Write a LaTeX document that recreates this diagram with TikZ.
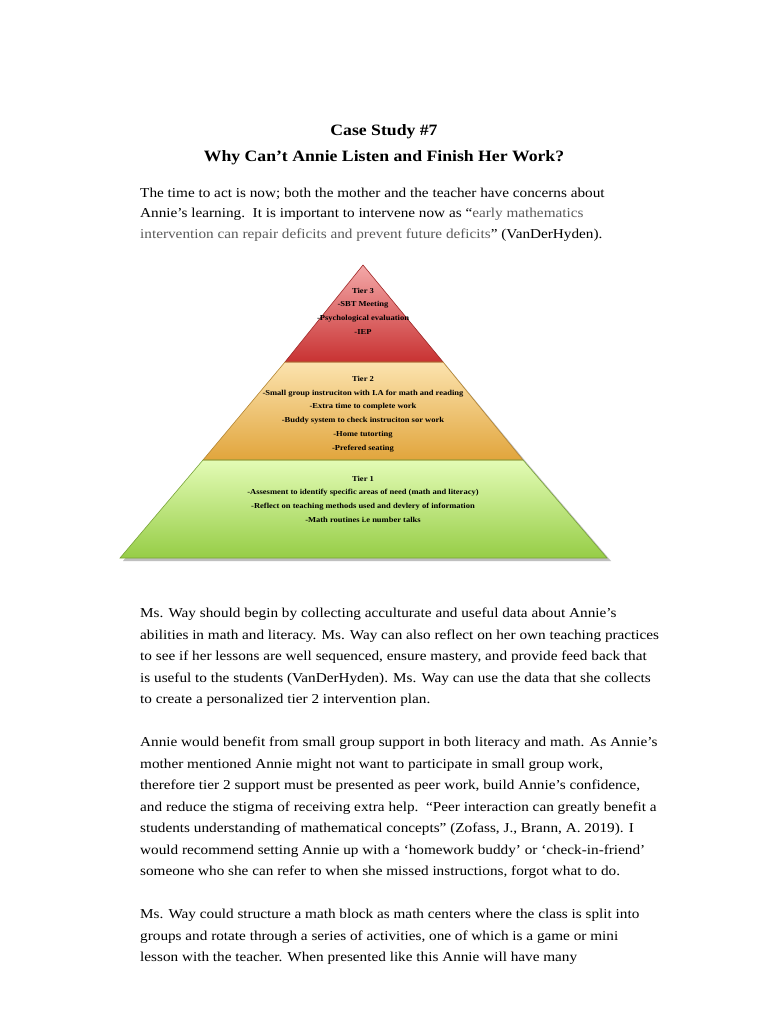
\documentclass[tikz,border=0pt]{standalone}
\usepackage{fontspec}
\setmainfont{Liberation Serif}[FakeStretch=1.12]
\begin{document}
\begin{tikzpicture}[x=1pt,y=-1pt,
 body/.style={anchor=base west,inner sep=0,font=\fontsize{13.6}{15}\selectfont},
 tit/.style={anchor=base,inner sep=0,font=\fontsize{15.8}{18}\selectfont\bfseries},
 tier/.style={align=center,inner sep=0,font=\fontsize{7.6}{13.7}\selectfont\bfseries}]
\useasboundingbox (0,0) rectangle (768,1024);
\fill[white] (0,0) rectangle (768,1024);
\definecolor{qgrey}{RGB}{90,90,90}
\node[tit] (t1) at (384,136) {Case Study \#7};
\node[tit] (t2) at (384,162) {Why Can’t Annie Listen and Finish Her Work?};
\node[body] (p1a) at (140,198) {The time to act is now; both the mother and the teacher have concerns about};
\node[body] (p1b) at (140,218) {Annie’s learning.\ \ It is important to intervene now as “{\color{qgrey}early mathematics}};
\node[body] (p1c) at (140,238) {{\color{qgrey}intervention can repair deficits and prevent future deficits}” (VanDerHyden).};
% pyramid
\definecolor{r1}{RGB}{236,110,110}\definecolor{r2}{RGB}{200,50,50}
\definecolor{o1}{RGB}{250,215,140}\definecolor{o2}{RGB}{225,165,60}
\definecolor{g1}{RGB}{215,250,150}\definecolor{g2}{RGB}{150,205,70}
\fill[black!25] (365,268) -- (446,365) -- (527,463) -- (611,561) -- (123,561) -- cycle;
\shade[top color=r1!60,bottom color=r2] (363,265) -- (443,362) -- (285,362) -- cycle;
\shade[top color=o1!70,bottom color=o2] (285,362) -- (443,362) -- (523,460) -- (203,460) -- cycle;
\shade[top color=g1!70,bottom color=g2] (203,460) -- (523,460) -- (607,558) -- (120,558) -- cycle;
\draw[r2!80!black,line width=0.6] (363,265) -- (443,362) -- (285,362) -- cycle;
\draw[o2!80!black,line width=0.6] (285,362) -- (443,362) -- (523,460) -- (203,460) -- cycle;
\draw[g2!80!black,line width=0.6] (203,460) -- (523,460) -- (607,558) -- (120,558) -- cycle;
\node[tier] (n3) at (363,311) {Tier 3\\-SBT Meeting\\-Psychological evaluation\\-IEP};
\node[tier] (n2) at (363,414) {Tier 2\\-Small group instruciton with I.A for math and reading\\-Extra time to complete work\\-Buddy system to check instruciton sor work\\-Home tutorting\\-Prefered seating};
\node[tier] (n1) at (363,499) {Tier 1\\-Assesment to identify specific areas of need (math and literacy)\\-Reflect on teaching methods used and devlery of information\\-Math routines i.e number talks};
\node[body] (a1) at (140,617) {Ms. Way should begin by collecting acculturate and useful data about Annie’s};
\node[body] (a2) at (140,639) {abilities in math and literacy. Ms. Way can also reflect on her own teaching practices};
\node[body] (a3) at (140,660) {to see if her lessons are well sequenced, ensure mastery, and provide feed back that};
\node[body] (a4) at (140,682) {is useful to the students (VanDerHyden). Ms. Way can use the data that she collects};
\node[body] (a5) at (140,703) {to create a personalized tier 2 intervention plan.};
\node[body] (b1) at (140,746) {Annie would benefit from small group support in both literacy and math. As Annie’s};
\node[body] (b2) at (140,768) {mother mentioned Annie might not want to participate in small group work,};
\node[body] (b3) at (140,789) {therefore tier 2 support must be presented as peer work, build Annie’s confidence,};
\node[body] (b4) at (140,811) {and reduce the stigma of receiving extra help.\ \ “Peer interaction can greatly benefit a};
\node[body] (b5) at (140,832) {students understanding of mathematical concepts” (Zofass, J., Brann, A. 2019). I};
\node[body] (b6) at (140,854) {would recommend setting Annie up with a ‘homework buddy’ or ‘check-in-friend’};
\node[body] (b7) at (140,875) {someone who she can refer to when she missed instructions, forgot what to do.};
\node[body] (c1) at (140,918) {Ms. Way could structure a math block as math centers where the class is split into};
\node[body] (c2) at (140,940) {groups and rotate through a series of activities, one of which is a game or mini};
\node[body] (c3) at (140,961) {lesson with the teacher. When presented like this Annie will have many};
\end{tikzpicture}
\end{document}
